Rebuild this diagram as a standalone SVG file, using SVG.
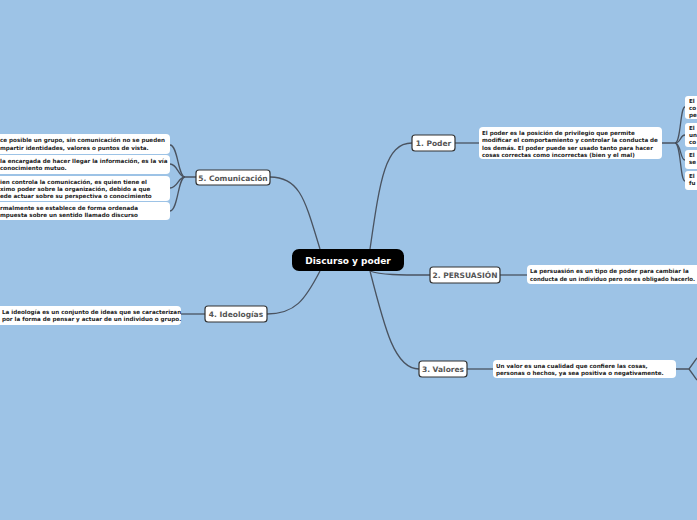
<svg xmlns="http://www.w3.org/2000/svg" width="697" height="520" viewBox="0 0 697 520">
<style>
.c{fill:none;stroke:#4a5360;stroke-width:1.3}
.m{fill:#fff;stroke:#333;stroke-width:1.2}
.mt{font-family:"DejaVu Sans",sans-serif;font-size:7.5px;font-weight:bold;fill:#555}
.d{fill:#fff;stroke:none}
.dt{font-family:"DejaVu Sans",sans-serif;font-size:5.6px;font-weight:bold;fill:#222}
</style>
<rect width="697" height="520" fill="#9dc3e6"/>
<g id="connectors">
<path class="c" d="M370 249 C380 180 385 143 412 143"/>
<path class="c" d="M370 271 C380 275 400 275 430 275"/>
<path class="c" d="M370 271 C385 330 395 369 419 369"/>
<path class="c" d="M320 271 C305 300 295 314 267 314"/>
<path class="c" d="M320 249 C305 200 300 177 270 177"/>
<path class="c" d="M455 143 L479 143"/>
<path class="c" d="M500 275 L527 275"/>
<path class="c" d="M467 369 L493 369"/>
<path class="c" d="M205 314 L181 314"/>
<path class="c" d="M196 177 L185 177 C178 177 178 145 170 145"/>
<path class="c" d="M185 177 C178 177 178 164 170 164"/>
<path class="c" d="M185 177 C178 177 178 188 170 188"/>
<path class="c" d="M185 177 C178 177 178 211 170 211"/>
<path class="c" d="M662 143 L675 143 C681 143 680 107 685 107"/>
<path class="c" d="M675 143 C681 143 680 135 685 135"/>
<path class="c" d="M675 143 C681 143 680 160 685 160"/>
<path class="c" d="M675 143 C681 143 680 181 685 181"/>
<path class="c" d="M676 369 L689 369 L697 358"/>
<path class="c" d="M689 369 L697 380"/>
</g>
<g id="center"><rect x="292" y="249" width="112" height="22" rx="7" fill="#000"/><text x="348" y="263.5" text-anchor="middle" font-family="DejaVu Sans,sans-serif" font-size="9" font-weight="bold" fill="#fff">Discurso y poder</text></g>
<g id="n1"><rect class="m" x="412" y="135" width="43" height="16" rx="3"/><text class="mt" x="433.5" y="146" text-anchor="middle">1. Poder</text></g>
<g id="n2"><rect class="m" x="430" y="267" width="70" height="16" rx="3"/><text class="mt" x="465" y="278" text-anchor="middle">2. PERSUASIÓN</text></g>
<g id="n3"><rect class="m" x="419" y="361" width="48" height="16" rx="3"/><text class="mt" x="443" y="372" text-anchor="middle">3. Valores</text></g>
<g id="n4"><rect class="m" x="205" y="306" width="62" height="16" rx="3"/><text class="mt" x="236" y="317" text-anchor="middle">4. Ideologías</text></g>
<g id="n5"><rect class="m" x="196" y="170" width="74" height="15" rx="3"/><text class="mt" x="233" y="180.5" text-anchor="middle">5. Comunicación</text></g>
<g id="d1"><rect class="d" x="479" y="127" width="183" height="32" rx="4"/><text class="dt"><tspan x="482" y="135">El poder es la posición de privilegio que permite</tspan><tspan x="482" y="142.3">modificar el comportamiento y controlar la conducta de</tspan><tspan x="482" y="149.6">los demás. El poder puede ser usado tanto para hacer</tspan><tspan x="482" y="156.9">cosas correctas como incorrectas (bien y el mal)</tspan></text></g>
<g id="d1a"><rect class="d" x="685" y="96" width="20" height="23" rx="3"/><text class="dt"><tspan x="689" y="103">El</tspan><tspan x="689" y="110">co</tspan><tspan x="689" y="117">pe</tspan></text></g>
<g id="d1b"><rect class="d" x="685" y="123" width="20" height="24" rx="3"/><text class="dt"><tspan x="689" y="130">El</tspan><tspan x="689" y="137">un</tspan><tspan x="689" y="144">co</tspan></text></g>
<g id="d1c"><rect class="d" x="685" y="150" width="20" height="19" rx="3"/><text class="dt"><tspan x="689" y="157">El</tspan><tspan x="689" y="164">se</tspan></text></g>
<g id="d1d"><rect class="d" x="685" y="171" width="20" height="19" rx="3"/><text class="dt"><tspan x="689" y="178">El</tspan><tspan x="689" y="185">fu</tspan></text></g>
<g id="d2"><rect class="d" x="527" y="265" width="175" height="19" rx="4"/><text class="dt"><tspan x="530" y="273">La persuasión es un tipo de poder para cambiar la</tspan><tspan x="530" y="280.5" textLength="165" lengthAdjust="spacingAndGlyphs">conducta de un individuo pero no es obligado hacerlo.</tspan></text></g>
<g id="d3"><rect class="d" x="493" y="360" width="183" height="18" rx="4"/><text class="dt"><tspan x="496" y="367.5">Un valor es una cualidad que confiere las cosas,</tspan><tspan x="496" y="375">personas o hechos, ya sea positiva o negativamente.</tspan></text></g>
<g id="d4"><rect class="d" x="-5" y="306" width="186" height="19" rx="4"/><text class="dt"><tspan x="2" y="313.5">La ideología es un conjunto de ideas que se caracterizan</tspan><tspan x="2" y="321">por la forma de pensar y actuar de un individuo o grupo.</tspan></text></g>
<g id="d5a"><rect class="d" x="-5" y="134" width="175" height="20" rx="4"/><text class="dt"><tspan x="0" y="142">ce posible un grupo, sin comunicación no se pueden</tspan><tspan x="0" y="149.5">mpartir identidades, valores o puntos de vista.</tspan></text></g>
<g id="d5b"><rect class="d" x="-5" y="155" width="175" height="19" rx="4"/><text class="dt"><tspan x="0" y="162.5">la encargada de hacer llegar la información, es la vía</tspan><tspan x="0" y="170">conocimiento mutuo.</tspan></text></g>
<g id="d5c"><rect class="d" x="-5" y="176" width="175" height="25" rx="4"/><text class="dt"><tspan x="0" y="183.5">ien controla la comunicación, es quien tiene el</tspan><tspan x="0" y="190.5">ximo poder sobre la organización, debido a que</tspan><tspan x="0" y="197.5">ede actuar sobre su perspectiva o conocimiento</tspan></text></g>
<g id="d5d"><rect class="d" x="-5" y="202" width="175" height="18" rx="4"/><text class="dt"><tspan x="0" y="209.5">rmalmente se establece de forma ordenada</tspan><tspan x="0" y="217">mpuesta sobre un sentido llamado discurso</tspan></text></g>
</svg>
